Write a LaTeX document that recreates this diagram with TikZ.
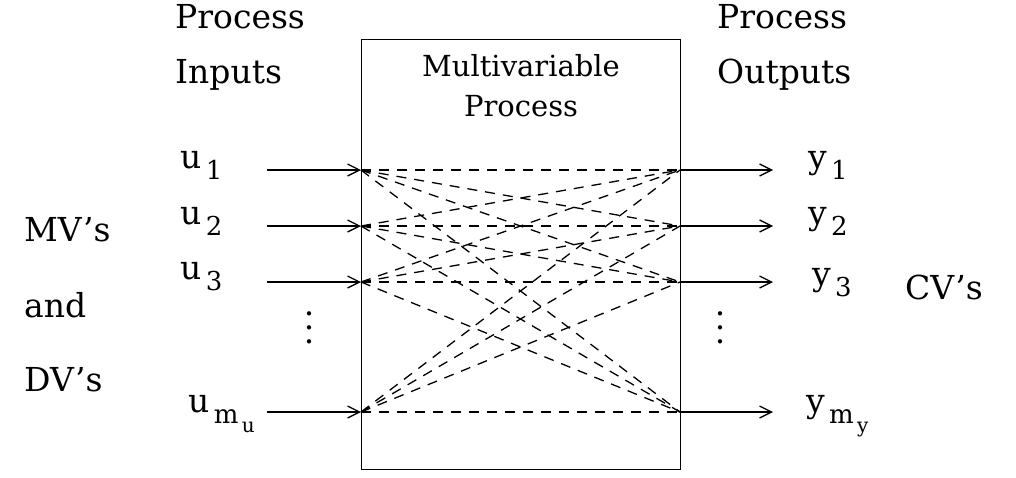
\documentclass[tikz,border=0pt]{standalone}
\usepackage{fontspec}
\usetikzlibrary{arrows.meta}
\setmainfont{DejaVu Serif}
\newcommand{\lowsub}[1]{\raisebox{-11pt}{\fontsize{26}{26}\selectfont\,#1}}
\newcommand{\lowsubb}[1]{\raisebox{-9pt}{\fontsize{20}{20}\selectfont\,#1}}
\begin{document}
\begin{tikzpicture}[x=1pt,y=-1pt,
  big/.style={font=\fontsize{33}{55}\selectfont,inner sep=0,align=left},
  lab/.style={font=\fontsize{33}{38}\selectfont,inner sep=0},
  arr/.style={-{Straight Barb[length=12pt,width=12pt]},line width=1.3pt},
  dsh/.style={dashed,dash pattern=on 10pt off 8pt,line width=1.3pt},
  vd/.style={font=\fontsize{33}{14}\selectfont,inner sep=0,align=center}]
\useasboundingbox (0,0) rectangle (1016,477);
\node[draw,line width=1.3pt,minimum width=319,minimum height=430,inner sep=0,anchor=north west] (box) at (361,39) {};
\node[big,anchor=north west] (pi) at (175,4) {Process\\Inputs};
\node[big,anchor=north west] (po) at (717,4) {Process\\Outputs};
\node[font=\fontsize{29}{40}\selectfont,align=center,inner sep=0] (mp) at (521,86) {Multivariable\\Process};
\node[big,anchor=west] (mv) at (24,230) {MV's};
\node[big,anchor=west] (and) at (24,305) {and};
\node[big,anchor=west] (dv) at (24,380) {DV's};
\node[big,anchor=west] (cv) at (905,287) {CV's};
\foreach \n/\y in {1/170,2/226,3/282,4/412}{
  \coordinate (a\n) at (267,\y); \coordinate (L\n) at (361,\y);
  \coordinate (R\n) at (680,\y); \coordinate (b\n) at (773,\y);
  \draw[arr] (a\n) -- (L\n);
  \draw[arr] (R\n) -- (b\n);
}
\foreach \i in {1,2,3,4}{\foreach \j in {1,2,3,4}{
  \draw[dsh] (L\i) -- (R\j);}}
\node[lab,anchor=west] (u1) at (180,165) {u\lowsub{1}};
\node[lab,anchor=west] (u2) at (180,221) {u\lowsub{2}};
\node[lab,anchor=west] (u3) at (180,277) {u\lowsub{3}};
\node[lab,anchor=west] (u4) at (188,414) {u\raisebox{-11pt}{\fontsize{26}{26}\selectfont\,m\lowsubb{u}}};
\node[lab,anchor=west] (y1) at (808,165) {y\lowsub{1}};
\node[lab,anchor=west] (y2) at (808,221) {y\lowsub{2}};
\node[lab,anchor=west] (y3) at (812,283) {y\lowsub{3}};
\node[lab,anchor=west] (y4) at (806,416) {y\raisebox{-11pt}{\fontsize{26}{26}\selectfont\,m\lowsubb{y}}};
\node[vd] (d1) at (309,328) {.\\.\\.};
\node[vd] (d2) at (720,328) {.\\.\\.};
\end{tikzpicture}
\end{document}
